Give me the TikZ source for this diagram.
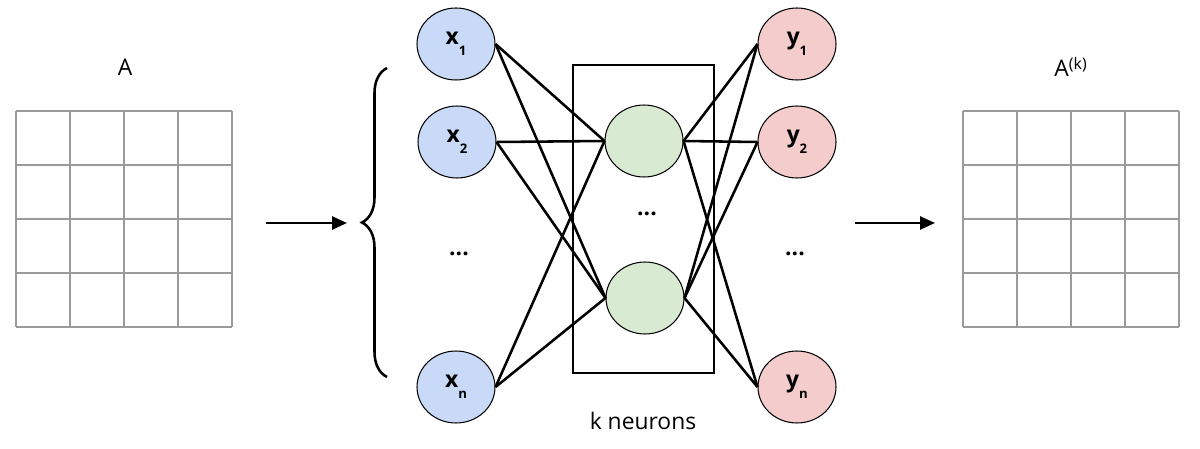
\documentclass[tikz,border=0pt]{standalone}
\usepackage{fontspec}
\setmainfont{Open Sans}
\usepackage{tikz}
\usetikzlibrary{shapes.geometric}
\usetikzlibrary{arrows.meta}
\usetikzlibrary{decorations.pathreplacing}
\definecolor{inblue}{HTML}{C9DAF8}
\definecolor{hidgreen}{HTML}{D9EAD3}
\definecolor{outred}{HTML}{F4CCCC}
\definecolor{gridgray}{HTML}{9A9A9A}
\newcommand{\nlab}[2]{{\bfseries #1\raisebox{-0.9ex}{\fontsize{7.5}{8}\selectfont #2}}}
\tikzset{
  neuron/.style={ellipse, draw, line width=0.6pt, minimum width=1.56cm, minimum height=1.44cm, inner sep=0pt},
  conn/.style={line width=1.45pt},
}

\begin{document}
\begin{tikzpicture}[x=0.02cm, y=-0.02cm, font=\fontsize{13}{15}\selectfont]
    \useasboundingbox (0,0) rectangle (1200,449);
    % input and output matrices
    \foreach \i in {0,...,4} {
      \draw[gridgray, line width=0.8pt] (16+54*\i,111) -- (16+54*\i,327);
      \draw[gridgray, line width=0.8pt] (16,111+54*\i) -- (232,111+54*\i);
      \draw[gridgray, line width=0.8pt] (963+54*\i,111) -- (963+54*\i,327);
      \draw[gridgray, line width=0.8pt] (963,111+54*\i) -- (1179,111+54*\i);
    }
    \node (A) at (125,67) {A};
    \node (Ak) at (1071,67) {A\textsuperscript{(k)}};

    \node[neuron, fill=inblue] (x1) at (456, 44) {\nlab{x}{1}};
    \node[neuron, fill=inblue] (x2) at (457,142) {\nlab{x}{2}};
    \node[neuron, fill=inblue] (xn) at (456,387) {\nlab{x}{n}};
    \node (xdots) at (459,254) {\textbf{...}};

    \node[draw, conn, minimum width=2.82cm, minimum height=6.16cm] (layer) at (643.5,219) {};
    \node (klab) at (643,421) {k neurons};
    \node[neuron, fill=hidgreen] (h1) at (644,141) {};
    \node[neuron, fill=hidgreen] (hk) at (645,298) {};
    \node (hdots) at (647,214) {\textbf{...}};

    \node[neuron, fill=outred] (y1) at (797, 44) {\nlab{y}{1}};
    \node[neuron, fill=outred] (y2) at (797,142) {\nlab{y}{2}};
    \node[neuron, fill=outred] (yn) at (797,387) {\nlab{y}{n}};
    \node (ydots) at (795,254) {\textbf{...}};

    \coordinate (inL) at (266,223);
    \coordinate (inR) at (347,223);
    \coordinate (outL) at (855,223);
    \coordinate (outR) at (935,223);
    \coordinate (braceB) at (387,377);
    \coordinate (braceT) at (387,68);

    \draw[conn, -{Triangle[length=0.3cm, width=0.26cm]}] (inL) -- (inR);
    \draw[conn, -{Triangle[length=0.3cm, width=0.26cm]}] (outL) -- (outR);
    \draw[conn, decorate, decoration={brace, amplitude=0.5cm}] (braceB) -- (braceT);

    \draw[conn] (x1.east) edge (h1.west);
    \draw[conn] (x1.east) edge (hk.west);
    \draw[conn] (x2.east) edge (h1.west);
    \draw[conn] (x2.east) edge (hk.west);
    \draw[conn] (xn.east) edge (h1.west);
    \draw[conn] (xn.east) edge (hk.west);
    \draw[conn] (h1.east) edge (y1.west);
    \draw[conn] (h1.east) edge (y2.west);
    \draw[conn] (h1.east) edge (yn.west);
    \draw[conn] (hk.east) edge (y1.west);
    \draw[conn] (hk.east) edge (y2.west);
    \draw[conn] (hk.east) edge (yn.west);
\end{tikzpicture}
\end{document}
